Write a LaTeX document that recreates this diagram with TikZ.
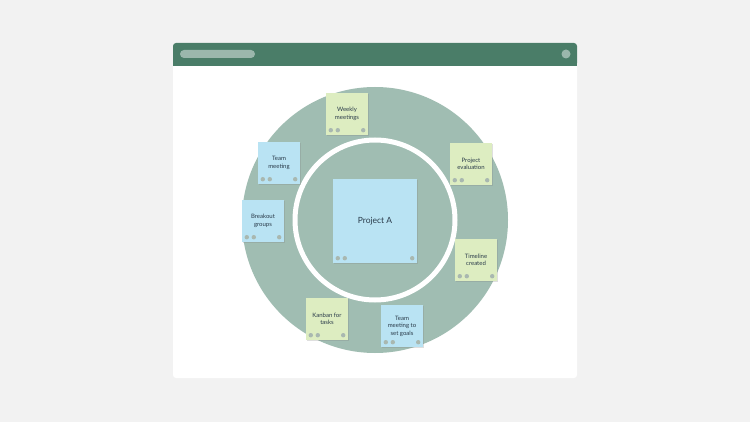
\documentclass[tikz,border=0pt]{standalone}
\usepackage{fontspec}
\setmainfont{Lato}
\definecolor{bg}{HTML}{F2F2F2}
\definecolor{bar}{HTML}{4A7D68}
\definecolor{ring}{HTML}{A0BDB2}
\definecolor{sg}{HTML}{DDEDC1}
\definecolor{sb}{HTML}{B9E3F3}
\definecolor{txt}{HTML}{2A3B4A}
\definecolor{dotc}{HTML}{A9B8B0}
\tikzset{
 sticky/.style={rectangle,minimum width=42pt,minimum height=42pt,inner sep=1pt,align=center,font=\fontsize{6}{7.5}\selectfont,text=txt,drop shadow={shadow xshift=0.5pt,shadow yshift=-0.8pt,opacity=0.25}},
 gs/.style={sticky,fill=sg}, bs/.style={sticky,fill=sb},
 dotst/.style={fill=dotc,draw=none}
}
\usetikzlibrary{shadows}
\newcommand{\stdots}[2][42]{%
 \fill[dotst] ($(#2.south west)+(5,4)$) circle (2.2);
 \fill[dotst] ($(#2.south west)+(12,4)$) circle (2.2);
 \fill[dotst] ($(#2.south east)+(-5,4)$) circle (2.2);}
\usetikzlibrary{calc}
\begin{document}
\begin{tikzpicture}[x=1pt,y=-1pt]
\fill[bg] (0,0) rectangle (750,422);
\useasboundingbox (0,0) rectangle (750,422);
\fill[white,rounded corners=3pt] (173,43) rectangle (577,378);
\fill[bar,rounded corners=3pt] (173,43) rectangle (577,66);
\fill[bar] (173,58) rectangle (577,66);
\fill[white,opacity=0.45,rounded corners=4pt] (180,50) rectangle (255,58);
\fill[white,opacity=0.45] (566,54) circle (4.5);
\node[circle,fill=ring,minimum size=266pt] (big) at (375,220) {};
\node[circle,draw=white,line width=5pt,fill=ring,minimum size=160pt] (inner) at (375,220) {};
\node[bs,minimum width=84pt,minimum height=84pt,font=\fontsize{8.5}{10}\selectfont] (pa) at (375,221) {Project A};
\fill[dotst] ($(pa.south west)+(5,-5)$) circle (2.2);
\fill[dotst] ($(pa.south west)+(12,-5)$) circle (2.2);
\fill[dotst] ($(pa.south east)+(-5,-5)$) circle (2.2);
\node[gs] (wm) at (347,114) {Weekly\\meetings};
\node[gs] (pe) at (471,164) {Project\\evaluation};
\node[gs] (tc) at (476,260) {Timeline\\created};
\node[bs] (tg) at (402,326) {Team\\meeting to\\set goals};
\node[gs] (kb) at (327,319) {Kanban for\\tasks};
\node[bs] (bg) at (263,221) {Breakout\\groups};
\node[bs] (tm) at (279,163) {Team\\meeting};
\foreach \n in {wm,pe,tc,tg,kb,bg,tm}{
 \fill[dotst] ($(\n.south west)+(5,-5)$) circle (2.2);
 \fill[dotst] ($(\n.south west)+(12,-5)$) circle (2.2);
 \fill[dotst] ($(\n.south east)+(-5,-5)$) circle (2.2);}
\end{tikzpicture}
\end{document}
